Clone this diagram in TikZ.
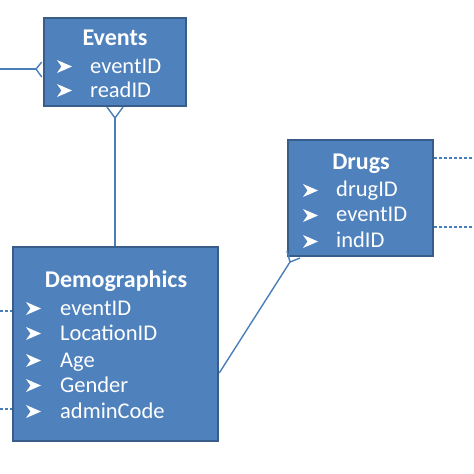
\documentclass[tikz,border=0pt]{standalone}
\usepackage{fontspec}
\setmainfont{Carlito}
\definecolor{boxfill}{HTML}{4F81BD}
\definecolor{boxedge}{HTML}{385D8A}
\definecolor{linkcol}{HTML}{4A7EBB}
\tikzset{
  entity/.style={draw=boxedge, fill=boxfill, line width=2.5pt, rectangle, inner sep=0pt},
  ttl/.style={text=white, font=\fontsize{24}{28}\selectfont\bfseries, anchor=base, inner sep=0pt},
  itm/.style={text=white, font=\fontsize{22.5}{27}\selectfont, anchor=base west, inner sep=0pt},
  link/.style={draw=linkcol, line width=1.4pt},
  dlink/.style={draw=linkcol, line width=1.2pt, dash pattern=on 3pt off 2pt},
  arrowbul/.pic={\fill[white] (0,0) -- (15,6.5) -- (0,13) -- (4.5,6.5) -- cycle;}
}
\begin{document}
\begin{tikzpicture}[x=1pt,y=-1pt]
\useasboundingbox (0,0) rectangle (474,474);
% boxes
\node[entity, minimum width=142pt, minimum height=88pt] (ev) at (115,62) {};
\node[entity, minimum width=145pt, minimum height=116pt] (dr) at (360.5,198) {};
\node[entity, minimum width=205pt, minimum height=194pt] (dm) at (115.5,344) {};
% Events text
\node[ttl] (evt) at (115,45) {Events};
\pic at (57,60) {arrowbul}; \node[itm] (ev1) at (90,73) {eventID};
\pic at (57,84) {arrowbul}; \node[itm] (ev2) at (90,97) {readID};
% Drugs text
\node[ttl] (drt) at (361,169) {Drugs};
\pic at (303,184) {arrowbul}; \node[itm] (dr1) at (336,196) {drugID};
\pic at (303,209) {arrowbul}; \node[itm] (dr2) at (336,221) {eventID};
\pic at (303,235) {arrowbul}; \node[itm] (dr3) at (336,247) {indID};
% Demographics text
\node[ttl] (dmt) at (116,287) {Demographics};
\pic at (26,302) {arrowbul}; \node[itm] (dm1) at (60,315) {eventID};
\pic at (26,327) {arrowbul}; \node[itm] (dm2) at (60,340) {LocationID};
\pic at (26,354) {arrowbul}; \node[itm] (dm3) at (60,367) {Age};
\pic at (26,379) {arrowbul}; \node[itm] (dm4) at (60,392) {Gender};
\pic at (26,405) {arrowbul}; \node[itm] (dm5) at (60,418) {adminCode};
% connectors
\coordinate (evIn) at (0,69);
\coordinate (evFootL) at (36,69);
\draw[link] (evIn) -- (evFootL);
\draw[link] ([xshift=-1pt]ev.west |- 0,62) -- (evFootL) -- ([xshift=-1pt]ev.west |- 0,77);
\coordinate (evFootB) at (115,118);
\draw[link] (evFootB) -- (dm.north -| evFootB);
\draw[link] (107,107) -- (evFootB) -- (123,107);
\coordinate (drFoot) at (290,262);
\draw[link] (dm.east |- 0,373) -- (drFoot);
\draw[link] (287,251) -- (drFoot) -- (300,258);
% dashed stubs
\coordinate (dr1e) at (474,158);
\coordinate (dr2e) at (474,227);
\draw[dlink] (dr.east |- dr1e) -- (dr1e);
\draw[dlink] (dr.east |- dr2e) -- (dr2e);
\coordinate (dm1e) at (0,311);
\coordinate (dm2e) at (0,409);
\draw[dlink] (dm1e) -- (dm.west |- dm1e);
\draw[dlink] (dm2e) -- (dm.west |- dm2e);
\end{tikzpicture}
\end{document}
